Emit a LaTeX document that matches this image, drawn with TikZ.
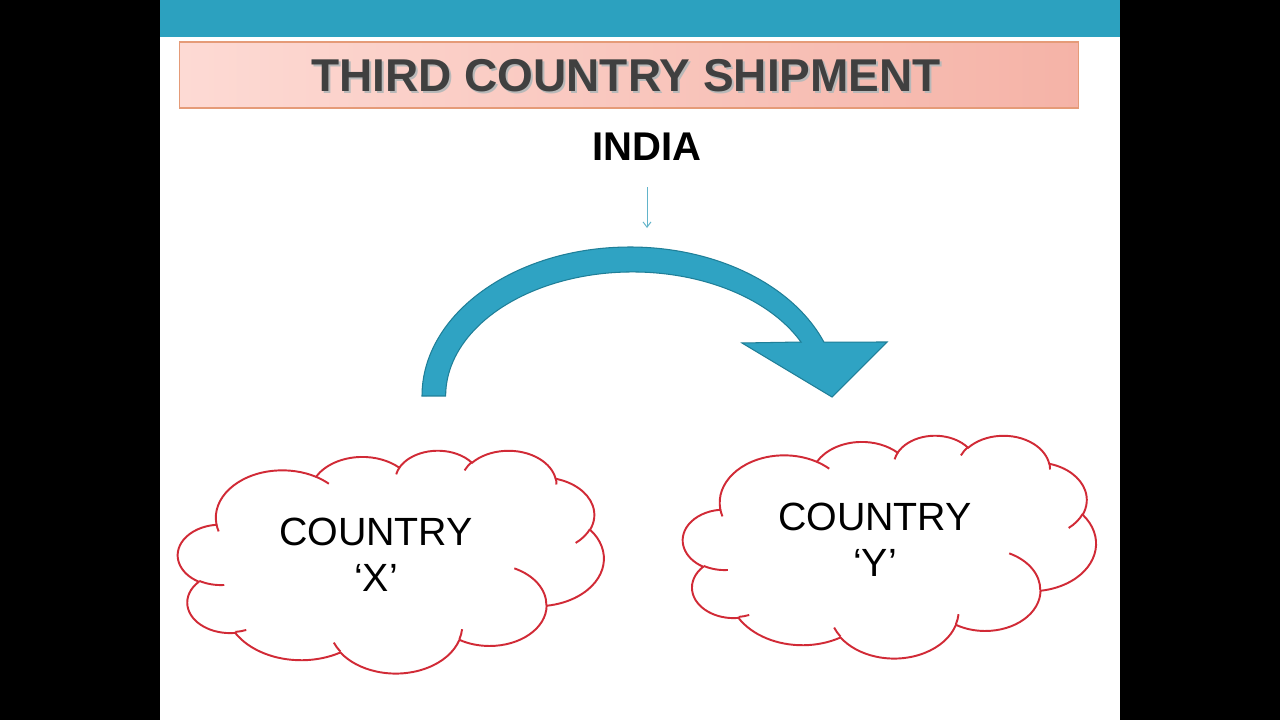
\documentclass[tikz,border=0pt]{standalone}
\usepackage{fontspec}
\setmainfont{Liberation Sans}
\usetikzlibrary{arrows.meta}
\definecolor{barteal}{HTML}{2CA1BF}
\definecolor{arrowteal}{HTML}{2FA3C3}
\definecolor{arrowedge}{HTML}{1F7F98}
\definecolor{thinteal}{HTML}{62B4CA}
\definecolor{pinkleft}{HTML}{FDDAD4}
\definecolor{pinkright}{HTML}{F5B3A7}
\definecolor{pinkedge}{HTML}{E59B78}
\definecolor{titlegray}{HTML}{404040}
\definecolor{cloudred}{HTML}{D12A36}
% arc of the office cloud, angles given as seen on the ellipse
\newcommand\cldarc[4]{arc[start angle={atan2(#1*sin(#3),#2*cos(#3))},delta angle={mod(atan2(#1*sin(#3+#4),#2*cos(#3+#4))-atan2(#1*sin(#3),#2*cos(#3))+720,360)},x radius=#1,y radius=#2]}
\newcommand\drawcloud[4]{%
	\pgfmathsetmacro\cldx{#3*0.02/432}
	\pgfmathsetmacro\cldy{-#4*0.02/432}
	\begin{scope}[shift={(#1,#2)}]
	\begin{scope}[x=\cldx cm,y=\cldy cm]
		\draw[cloudline,fill=white] (39.00,143.70) \cldarc{67.53}{91.90}{-190.4875}{123.7805} \cldarc{53.33}{72.67}{-144.1024}{89.9452}
			\cldarc{43.65}{59.45}{-145.8079}{99.7230} \cldarc{48.57}{65.95}{-130.9861}{117.2417} \cldarc{53.33}{72.73}{-78.7089}{109.0269}
			\cldarc{67.75}{92.20}{-46.2673}{130.2690} \cldarc{57.85}{78.67}{0.6250}{114.0333} \cldarc{67.52}{92.15}{22.4516}{115.1726}
			\cldarc{77.20}{105.43}{66.2426}{75.7110} \cldarc{43.60}{59.18}{-274.9421}{146.7356} \cldarc{43.45}{59.45}{-246.8285}{152.5189} -- cycle;
		\draw[cloudline] (46.93,261.77) \cldarc{43.45}{59.45}{86.7420}{26.4295}
			(69.28,348.99) \cldarc{43.60}{59.18}{73.6105}{11.4475}
			(164.78,390.90) \cldarc{67.52}{92.15}{137.6242}{14.0811}
			(288.27,347.51) \cldarc{67.52}{92.15}{6.4533}{15.9984}
			(341.29,229.54) \cldarc{57.85}{78.67}{-70.2924}{70.9174}
			(417.98,153.54) \cldarc{53.33}{72.73}{30.3180}{27.7515}
			(383.24,54.26) \cldarc{48.57}{65.95}{-13.7443}{14.8589}
			(290.78,39.52) \cldarc{48.57}{65.95}{-149.1815}{18.1954}
			(221.41,47.20) \cldarc{43.65}{59.45}{-163.4943}{17.6864}
			(140.00,51.92) \cldarc{67.53}{91.90}{-66.7070}{12.3194}
			(41.27,157.89) \cldarc{67.53}{91.90}{157.6544}{11.8582};
	\end{scope}
	\end{scope}}
\begin{document}
\begin{tikzpicture}[x=0.02cm,y=-0.02cm,
		cloudline/.style={draw=cloudred,line width=1.1pt},
		titlebox/.style={draw=pinkedge,line width=0.6pt,left color=pinkleft,right color=pinkright,minimum width=18cm,minimum height=1.32cm,inner sep=0pt},
		titletext/.style={font=\bfseries\fontsize{26.2}{30}\selectfont,inner sep=0pt},
		countrytext/.style={font=\fontsize{22.4}{26.2}\selectfont,align=center,inner sep=0pt}]
	\useasboundingbox (0,0) rectangle (1280,720);
	\fill[black] (0,0) rectangle (1280,720);
	\fill[white] (160,0) rectangle (1120,720);
	\fill[barteal] (160,0) rectangle (1120,37);
	\node[titlebox] (title) at (629,75) {};
	\node[titletext,text=black!28] (titleshadow) at (628,78) {THIRD COUNTRY SHIPMENT};
	\node[titletext,text=titlegray] (titletxt) at (626,76) {THIRD COUNTRY SHIPMENT};
	\node[font=\bfseries\fontsize{22.8}{26}\selectfont,inner sep=0pt] (india) at (647,147) {INDIA};
	\coordinate (d1) at (647,187);
	\coordinate (d2) at (647,228);
	\draw[thinteal,line width=0.55pt,-{Straight Barb[length=3pt,width=4.5pt]}] (d1) -- (d2);
	% curved arrow
	\draw[fill=arrowteal,draw=arrowedge,line width=0.6pt] (422,396) arc[start angle=180,end angle=338.8,x radius=208,y radius=149]
		-- (887,342) -- (832,397) -- (742,343) -- (801,342) arc[start angle=334.2,end angle=180,x radius=187,y radius=124] -- cycle;
	% clouds
	\drawcloud{178}{450}{426}{223}
	\drawcloud{683}{435}{413}{223}
	\node[countrytext] (xtext) at (376,555) {COUNTRY\\‘X’};
	\node[countrytext] (ytext) at (875,540) {COUNTRY\\‘Y’};
\end{tikzpicture}
\end{document}
